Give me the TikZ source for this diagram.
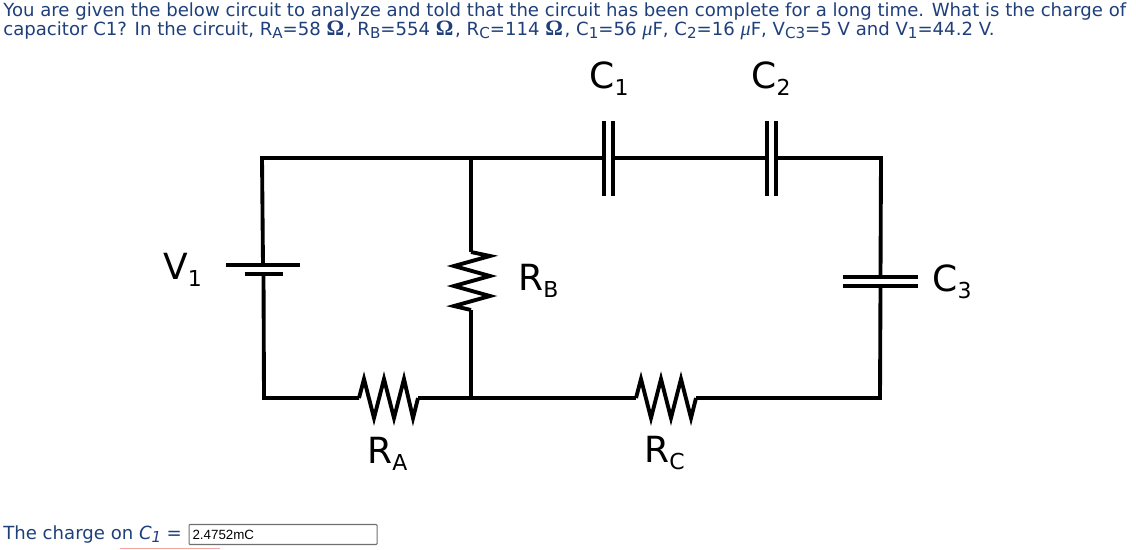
\documentclass[tikz,border=0pt]{standalone}
\usepackage{fontspec}
\usepackage{xcolor}
\setmainfont{DejaVu Sans}
\newfontfamily\symbfont{Liberation Serif}
\newfontfamily\boxfont{Liberation Sans}
\usetikzlibrary{positioning}
\definecolor{headblue}{HTML}{1F3F7A}
\definecolor{framegrey}{HTML}{707070}
\definecolor{markred}{HTML}{F4A6A0}
\newcommand{\sbs}[1]{\raisebox{-2pt}{\fontsize{8.6}{9}\selectfont #1}}
\newcommand{\ohm}{{\symbfont\bfseries\fontsize{12.5}{11}\selectfont Ω}\hspace{1pt}}
\newcommand{\micro}{{\symbfont\itshape\fontsize{11.5}{11}\selectfont μ}}
\newcommand{\lab}[2]{#1\raisebox{-4pt}{\fontsize{12.5}{13}\selectfont #2}}
\tikzset{
    wire/.style={line width=2.2pt, line join=miter},
    plate/.style={line width=2.2pt},
    complabel/.style={font=\fontsize{20.5}{22}\selectfont, inner sep=0pt, anchor=base west},
    headtext/.style={font=\fontsize{10.3}{11}\selectfont, text=headblue, inner sep=0pt, anchor=base west}
}
\begin{document}
\begin{tikzpicture}[x=0.02cm, y=-0.02cm]
            \useasboundingbox (0,0) rectangle (1136,549);
            % question text
            \node[headtext] (line_one) at (3,16) {You are given the below circuit to analyze and told that the circuit has been complete for a long time. What is the charge of};
            \node[headtext] (line_two) at (3,35) {capacitor C1? In the circuit, R\sbs{A}=58 \ohm, R\sbs{B}=554 \ohm, R\sbs{C}=114 \ohm, C\sbs{1}=56 \micro F, C\sbs{2}=16 \micro F, V\sbs{C3}=5 V and V\sbs{1}=44.2 V.};
            % corners and junctions
            \coordinate (top_left) at (262,158);
            \coordinate (top_mid) at (471,158);
            \coordinate (top_right) at (881,158);
            \coordinate (bot_left) at (264,398);
            \coordinate (bot_mid) at (471,398);
            \coordinate (bot_right) at (880,398);
            % battery
            \coordinate (batt_long) at (263,265);
            \coordinate (batt_short) at (263.5,274);
            \draw[plate] (batt_long) ++(-37,0) -- ++(74,0);
            \draw[plate] (batt_short) ++(-19,0) -- ++(38,0);
            % capacitors
            \coordinate (cap_a_left) at (604,158);
            \coordinate (cap_a_right) at (613,158);
            \coordinate (cap_b_left) at (767,158);
            \coordinate (cap_b_right) at (776,158);
            \coordinate (cap_c_top) at (880.5,277);
            \coordinate (cap_c_bot) at (880.5,286);
            \foreach \capname in {cap_a_left, cap_a_right, cap_b_left, cap_b_right}
                \draw[plate] (\capname) ++(0,-37) -- ++(0,75);
            \foreach \capname in {cap_c_top, cap_c_bot}
                \draw[plate] (\capname) ++(-37.5,0) -- ++(75,0);
            % resistors
            \coordinate (ra_in) at (359,398);
            \coordinate (ra_out) at (418,398);
            \coordinate (rb_in) at (471,252);
            \coordinate (rb_out) at (471,310);
            \coordinate (rc_in) at (636,398);
            \coordinate (rc_out) at (696,398);
            \draw[wire] (ra_in) -- ++(5,-19) -- ++(10,39) -- ++(10,-39) -- ++(10,39) -- ++(10,-39) -- ++(9,39) -- (ra_out);
            \draw[wire] (rc_in) -- ++(5,-19) -- ++(10,39) -- ++(10,-39) -- ++(10,39) -- ++(10,-39) -- ++(10,39) -- (rc_out);
            \draw[wire] (rb_in) -- ++(19,4) -- ++(-36,10) -- ++(36,10) -- ++(-36,10) -- ++(36,10) -- ++(-36,10) -- (rb_out);
            % wires
            \draw[wire] (batt_long) -- (top_left) -- (top_mid) -- (cap_a_left);
            \draw[wire] (cap_a_right) -- (cap_b_left);
            \draw[wire] (cap_b_right) -- (top_right) -- (cap_c_top);
            \draw[wire] (batt_short) -- (bot_left) -- (ra_in);
            \draw[wire] (ra_out) -- (bot_mid) -- (rc_in);
            \draw[wire] (rc_out) -- (bot_right) -- (cap_c_bot);
            \draw[wire] (top_mid) -- (rb_in);
            \draw[wire] (rb_out) -- (bot_mid);
            % labels
            \node[complabel] (label_c1) at (589,88) {\lab{C}{1}};
            \node[complabel] (label_c2) at (751,88) {\lab{C}{2}};
            \node[complabel] (label_c3) at (932,291) {\lab{C}{3}};
            \node[complabel] (label_v1) at (163,279) {\lab{V}{1}};
            \node[complabel] (label_rb) at (518,290) {\lab{R}{B}};
            \node[complabel] (label_ra) at (367,463) {\lab{R}{A}};
            \node[complabel] (label_rc) at (644,462) {\lab{R}{C}};
            % answer line
            \node[headtext] (answer_text) at (3,539) {The charge on \textit{C}\sbs{\textit{1}}\hspace{3pt}=};
            \node[draw=framegrey, line width=0.6pt, rounded corners=0.5pt, minimum width=187*0.02cm, minimum height=20*0.02cm, text width=181*0.02cm, inner xsep=2pt, inner ysep=1pt, anchor=west, font=\fontsize{7.6}{9}\selectfont\boxfont, align=left] (answer_box) at (188.5,534.5) {2.4752mC};
            \coordinate (mark_a) at (120,548.5);
            \coordinate (mark_b) at (220,548.5);
            \draw[markred, line width=0.8pt] (mark_a) -- (mark_b);
        \end{tikzpicture}
\end{document}
